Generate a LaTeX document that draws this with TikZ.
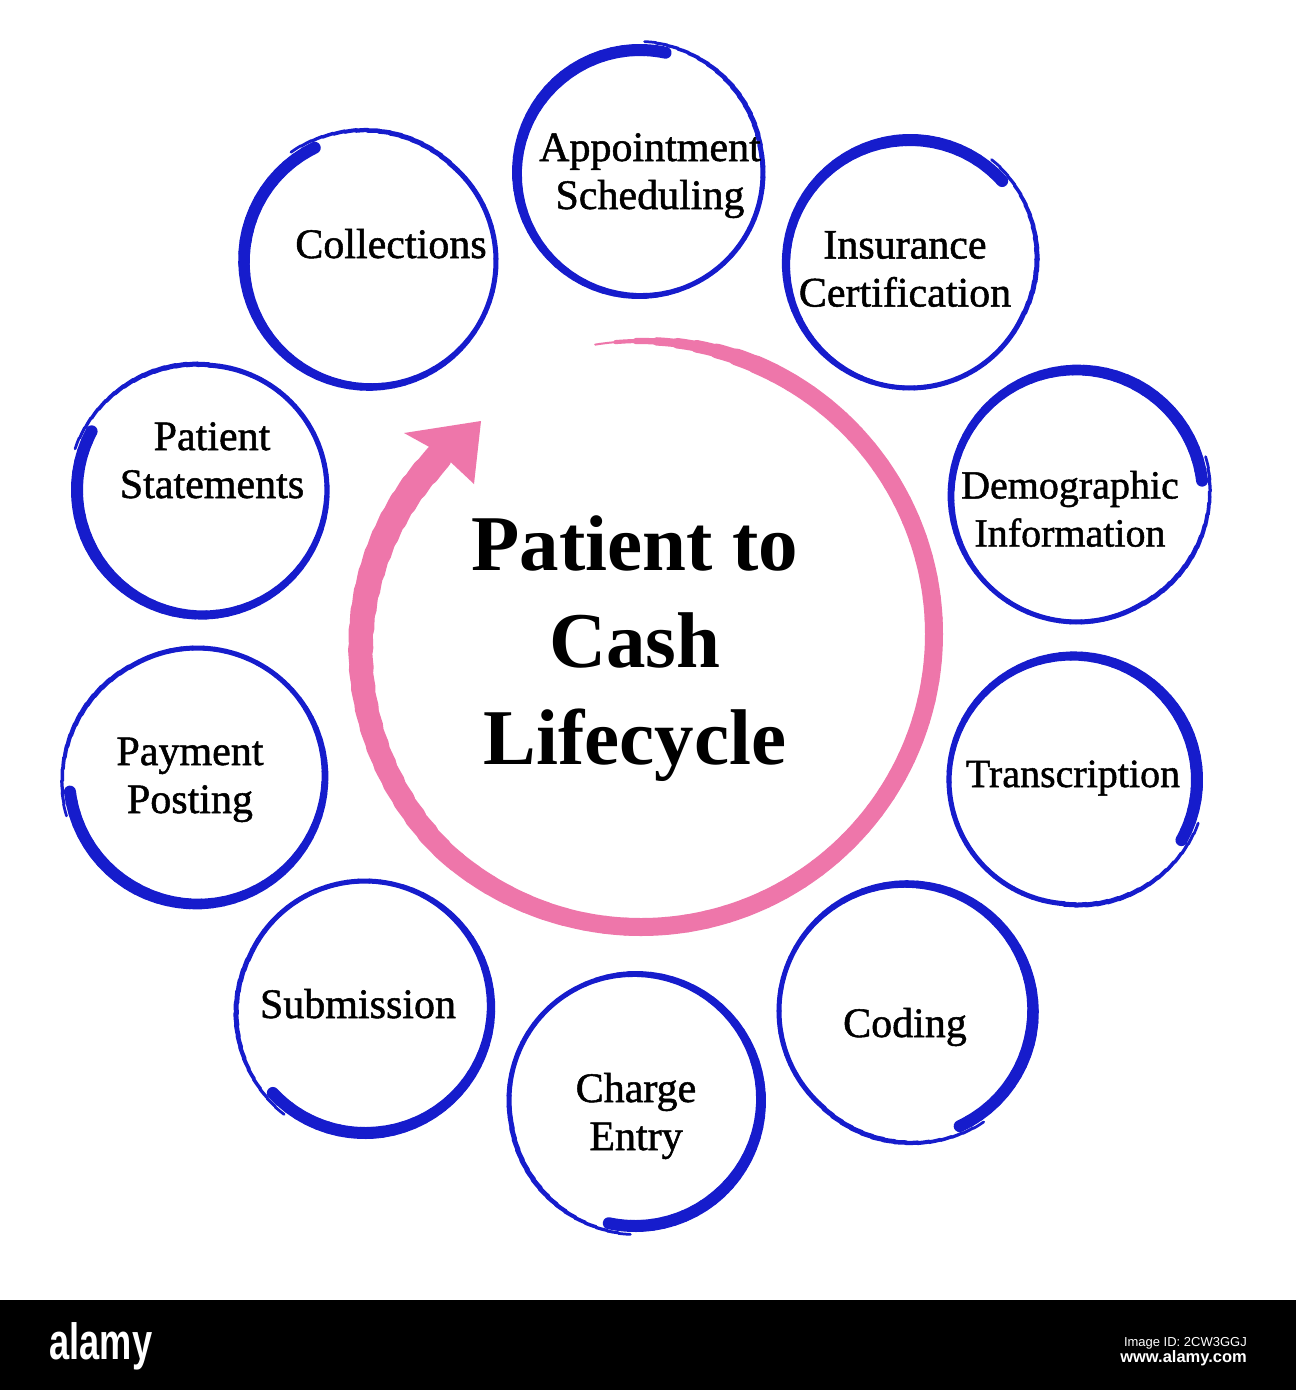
\documentclass[tikz,border=0pt]{standalone}
\usepackage{fontspec}
\setmainfont{Liberation Serif}
\newfontfamily\labelfont[FakeBold=1.2]{Liberation Serif}
\newfontfamily\markfont{Liberation Sans}
\newfontfamily\logofont[FakeStretch=0.71]{Liberation Sans}
\definecolor{ringblue}{RGB}{22,28,204}
\definecolor{cyclepink}{RGB}{238,118,170}
\tikzset{
  ringtext/.style={font=\labelfont\fontsize{42}{48}\selectfont, align=center, inner sep=0pt},
  narrowtext/.style={ringtext, font=\labelfont\fontsize{40}{48}\selectfont},
  hubtext/.style={font=\fontsize{79}{97}\selectfont\bfseries, align=center, inner sep=0pt},
  ringline/.style={draw=ringblue, line cap=round},
  marktext/.style={text=white, inner sep=0pt},
}
% brush ring: centre x, centre y (from top), radius, start angle
\newcommand{\brushring}[4]{%
  \foreach \u in {0,5,...,365}{%
    \pgfmathsetmacro\w{\u<50 ? 12 : (\u<210 ? 12-7*(\u-50)/160 : (\u<320 ? 5 : 5-2.5*(\u-320)/50))}
    \pgfmathsetmacro\rr{\u<290 ? #3 : #3+9*(\u-290)/80}
    \pgfmathsetmacro\a{#4+\u}
    \draw[ringline, line width=\w pt] (#1,-#2) ++(\a:\rr) arc[start angle=\a, delta angle=5, radius=\rr];
  }%
}
\begin{document}
\begin{tikzpicture}[x=1pt,y=1pt]
\useasboundingbox (0,0) rectangle (1296,-1390);
\fill[white] (0,0) rectangle (1296,-1300);

% pink cycle arrow
\foreach \u in {0,4,...,316}{
  \pgfmathsetmacro\w{\u<30 ? 2+16*\u/30 : (\u<200 ? 18 : 18+10*(\u-200)/120)}
  \pgfmathsetmacro\rr{\u<230 ? 293 : 293-25*(\u-230)/90}
  \pgfmathsetmacro\a{99-\u}
  \draw[cyclepink, line cap=round, line width=\w pt] (641,-634) ++(\a:\rr) arc[start angle=\a, delta angle=-4, radius=\rr];
}
\fill[cyclepink] (481,-421) -- (404,-433) -- (442,-454) -- (474,-484) -- cycle;

% rings
\brushring{640}{173}{123}{78}
\brushring{910}{264}{124}{42}
\brushring{1077}{496}{126}{7}
\brushring{1073}{780}{124}{-29}
\brushring{906}{1011}{127}{-65}
\brushring{635}{1100}{126}{258}
\brushring{365}{1007}{126}{223}
\brushring{197}{776}{128}{187}
\brushring{202}{490}{125}{152}
\brushring{370}{261}{126}{116}

\node[hubtext] (hub) at (635,-648) {\strut Patient to\\Cash\\\strut Lifecycle};

\node[ringtext] (appt) at (650,-175.4) {\strut Appointment\\\strut Scheduling};
\node[ringtext] (insur) at (905,-272.9) {\strut Insurance\\\strut Certification};
\node[narrowtext] (demo) at (1070,-512.9) {\strut Demographic\\\strut Information};
\node[narrowtext] (transc) at (1073,-777.4) {\strut Transcription};
\node[ringtext] (coding) at (905,-1027.4) {\strut Coding};
\node[ringtext] (charge) at (636,-1116.4) {\strut Charge\\\strut Entry};
\node[ringtext] (submit) at (358,-1008.4) {\strut Submission};
\node[ringtext] (payment) at (190,-779.4) {\strut Payment\\\strut Posting};
\node[ringtext] (statem) at (212,-464.4) {\strut Patient\\\strut Statements};
\node[ringtext] (collect) at (391,-248.4) {\strut Collections};

% stock bar
\fill[black] (0,-1300) rectangle (1296,-1390);
\node[marktext, font={\logofont\bfseries\fontsize{51}{51}\selectfont}, anchor=base] (logo) at (101,-1359) {alamy};
\node[marktext, font={\markfont\fontsize{13}{13}\selectfont}, anchor=base east] (imgid) at (1247,-1346) {Image ID: 2CW3GGJ};
\node[marktext, font={\markfont\bfseries\fontsize{16.5}{16.5}\selectfont}, anchor=base east] (site) at (1247,-1362) {www.alamy.com};
\end{tikzpicture}
\end{document}
